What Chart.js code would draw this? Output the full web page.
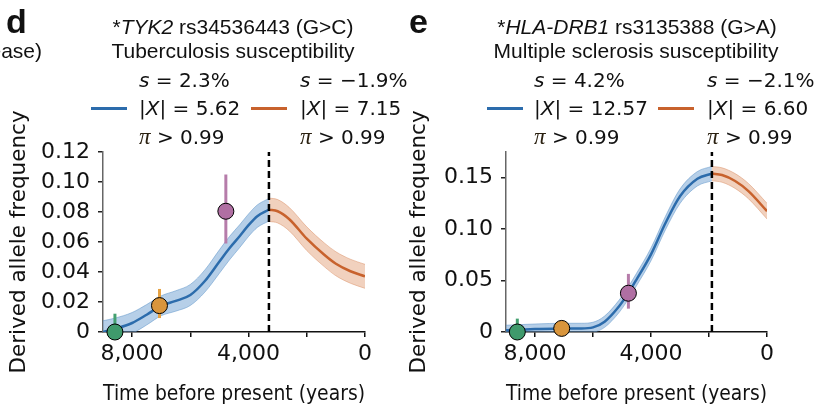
<!DOCTYPE html>
<html>
<head>
<meta charset="utf-8">
<script src="https://cdn.jsdelivr.net/npm/chart.js@4.4.1/dist/chart.umd.min.js"></script>
<style>
  html, body { margin: 0; padding: 0; background: #fff; }
  #wrap { position: relative; width: 820px; height: 418px; overflow: hidden; color: #111; }
  canvas { position: absolute; top: 0; }
  .txt { position: absolute; white-space: nowrap; line-height: 1; }
  .head { font-family: "Liberation Sans", Arial, sans-serif; font-size: 21px; transform: translateX(-50%); }
  .tag { font-family: "Liberation Sans", Arial, sans-serif; font-size: 34px; font-weight: bold; }
  .leg { font-family: "DejaVu Sans", sans-serif; font-size: 20px; }
  .pi { font-family: "Liberation Serif", serif; font-style: italic; font-size: 23px; color: #2a2010; }
  .swatch { position: absolute; top: 107px; height: 2.5px; width: 36px; }
</style>
</head>
<body>
<div id="wrap">
  <canvas id="chartD" width="410" height="418" style="left:0"></canvas>
  <canvas id="chartE" width="420" height="418" style="left:400px"></canvas>

  <div class="txt tag" style="left:6px;top:4px">d</div>
  <div class="txt head" style="right:778px;top:39.7px;transform:none">ease)</div>
  <div class="txt head" style="left:233px;top:15.5px">*<i>TYK2</i> rs34536443 (G&gt;C)</div>
  <div class="txt head" style="left:233px;top:39.7px">Tuberculosis susceptibility</div>
  <div class="swatch" style="left:91px;background:#2c6cac"></div>
  <div class="swatch" style="left:251px;background:#c8622d"></div>
  <div class="txt leg" style="left:139px;top:70.4px"><i>s</i> = 2.3%</div>
  <div class="txt leg" style="left:139px;top:98.1px">|<i>X</i>| = 5.62</div>
  <div class="txt leg" style="left:139px;top:124.8px"><span class="pi">π</span> &gt; 0.99</div>
  <div class="txt leg" style="left:300px;top:70.4px"><i>s</i> = −1.9%</div>
  <div class="txt leg" style="left:300px;top:98.1px">|<i>X</i>| = 7.15</div>
  <div class="txt leg" style="left:300px;top:124.8px"><span class="pi">π</span> &gt; 0.99</div>

  <div class="txt tag" style="left:409px;top:4px">e</div>
  <div class="txt head" style="left:637px;top:15.5px">*<i>HLA-DRB1</i> rs3135388 (G&gt;A)</div>
  <div class="txt head" style="left:636px;top:39.7px">Multiple sclerosis susceptibility</div>
  <div class="swatch" style="left:487px;background:#2c6cac"></div>
  <div class="swatch" style="left:658px;background:#c8622d"></div>
  <div class="txt leg" style="left:534px;top:70.4px"><i>s</i> = 4.2%</div>
  <div class="txt leg" style="left:534px;top:98.1px">|<i>X</i>| = 12.57</div>
  <div class="txt leg" style="left:534px;top:124.8px"><span class="pi">π</span> &gt; 0.99</div>
  <div class="txt leg" style="left:707px;top:70.4px"><i>s</i> = −2.1%</div>
  <div class="txt leg" style="left:707px;top:98.1px">|<i>X</i>| = 6.60</div>
  <div class="txt leg" style="left:707px;top:124.8px"><span class="pi">π</span> &gt; 0.99</div>
</div>

<script>
// axis ticks (shared x, per-panel y)
const xTickValues = [0, 2000, 4000, 6000, 8000];
const xTickLabels = ['0', '', '4,000', '', '8,000'];
const yTickValuesD = [0, 0.02, 0.04, 0.06, 0.08, 0.10, 0.12];
const yTickLabelsD = ['0', '0.02', '0.04', '0.06', '0.08', '0.10', '0.12'];
const yTickValuesE = [0, 0.05, 0.10, 0.15];
const yTickLabelsE = ['0', '0.05', '0.10', '0.15'];

// panel d: TYK2 trajectory (years before present -> frequency)
const yearsBlueD = [9000, 8600, 8000, 7500, 7000, 6500, 6000, 5500, 5000, 4650, 4300, 4000, 3700, 3300];
const meanBlueD = [0.000, 0.002, 0.006, 0.0115, 0.0175, 0.0207, 0.0247, 0.034, 0.047, 0.056, 0.064, 0.0712, 0.0772, 0.0815];
const halfBlueD = [0.0075, 0.0072, 0.007, 0.0068, 0.0066, 0.0068, 0.007, 0.0074, 0.0078, 0.0078, 0.0076, 0.0075, 0.0075, 0.0075];
const yearsOrangeD = [3300, 3000, 2600, 2000, 1400, 1000, 500, 0];
const meanOrangeD = [0.0815, 0.0805, 0.0752, 0.0622, 0.0515, 0.0455, 0.0405, 0.0371];
const halfOrangeD = [0.0078, 0.0078, 0.0078, 0.0079, 0.0079, 0.008, 0.008, 0.008];
const sampleYearsD = [8590, 7060, 4780];
const sampleFreqD = [0, 0.0176, 0.0805];
const sampleLowD = [0, 0.0093, 0.059];
const sampleHighD = [0.0122, 0.0287, 0.105];
const splitD = 3300;

// panel e: HLA-DRB1 trajectory
const yearsBlueE = [9000, 8000, 7000, 6400, 6000, 5600, 5100, 4780, 4500, 4000, 3500, 3000, 2400, 1900];
const meanBlueE = [0.0016, 0.0028, 0.0035, 0.0035, 0.0045, 0.0100, 0.0250, 0.0380, 0.0510, 0.0755, 0.1060, 0.1320, 0.1490, 0.1540];
const halfBlueE = [0.005, 0.005, 0.005, 0.005, 0.005, 0.0055, 0.006, 0.006, 0.006, 0.0062, 0.0065, 0.007, 0.007, 0.007];
const yearsOrangeE = [1900, 1550, 1100, 640, 0];
const meanOrangeE = [0.1540, 0.1526, 0.1468, 0.1370, 0.1175];
const halfOrangeE = [0.007, 0.007, 0.0072, 0.0074, 0.0076];
const sampleYearsE = [8610, 7079, 4779];
const sampleFreqE = [0, 0.0035, 0.0377];
const sampleLowE = [0, 0.0015, 0.0227];
const sampleHighE = [0.013, 0.0058, 0.0565];
const splitE = 1900;

const sampleColors = ['#3f9a6c', '#d9953c', '#b06fa3'];
const barColors = ['#44a070', '#e6a243', '#b67caa'];

const BLUE = '#2c6cac', BLUE_FILL = 'rgba(110,160,210,0.5)', BLUE_EDGE = 'rgba(90,145,200,0.5)';
const ORANGE = '#c8622d', ORANGE_FILL = 'rgba(222,145,100,0.42)', ORANGE_EDGE = 'rgba(215,135,90,0.45)';
const AX_FONT = '"DejaVu Sans", sans-serif';

function pts(xs, ys) { return xs.map((x, i) => ({x: x, y: ys[i]})); }
function shifted(xs, ys, hs, sign) { return xs.map((x, i) => ({x: x, y: ys[i] + sign * hs[i]})); }

function bandSets(xs, ys, hs, fill, edge) {
    const common = {pointRadius: 0, borderWidth: 1, borderColor: edge, cubicInterpolationMode: 'monotone', order: 4};
    return [
        Object.assign({data: shifted(xs, ys, hs, 1), fill: '+1', backgroundColor: fill}, common),
        Object.assign({data: shifted(xs, ys, hs, -1), fill: false}, common)
    ];
}

function makeChart(id, p) {
    const datasets = [];
    datasets.push({
        data: pts(p.sampleYears, p.sampleFreq), showLine: false, pointRadius: 8,
        pointBackgroundColor: sampleColors, pointBorderColor: '#000', pointBorderWidth: 1,
        order: 0, clip: false
    });
    p.sampleYears.forEach((x, i) => {
        datasets.push({
            data: [{x: x, y: p.sampleLow[i]}, {x: x, y: p.sampleHigh[i]}],
            borderColor: barColors[i], borderWidth: 3, pointRadius: 0, order: 1, clip: false
        });
    });
    datasets.push({
        data: [{x: p.split, y: 0}, {x: p.split, y: p.yMax}],
        borderColor: '#000', borderWidth: 2.5, borderDash: [7, 4], pointRadius: 0, order: 2
    });
    datasets.push({data: pts(p.blueYears, p.blueMean), borderColor: BLUE, borderWidth: 2.5, pointRadius: 0, cubicInterpolationMode: 'monotone', order: 3});
    datasets.push({data: pts(p.orangeYears, p.orangeMean), borderColor: ORANGE, borderWidth: 2.5, pointRadius: 0, cubicInterpolationMode: 'monotone', order: 3});
    bandSets(p.blueYears, p.blueMean, p.blueHalf, BLUE_FILL, BLUE_EDGE).forEach(d => datasets.push(d));
    bandSets(p.orangeYears, p.orangeMean, p.orangeHalf, ORANGE_FILL, ORANGE_EDGE).forEach(d => datasets.push(d));

    new Chart(document.getElementById(id).getContext('2d'), {
        type: 'line',
        data: {datasets: datasets},
        options: {
            responsive: false,
            animation: false,
            events: [],
            layout: {padding: {left: 0, right: p.padRight, top: 152, bottom: 8}},
            plugins: {legend: {display: false}, tooltip: {enabled: false}},
            scales: {
                x: {
                    type: 'linear', reverse: true, min: 0, max: 9000,
                    afterBuildTicks: s => { s.ticks = xTickValues.map(v => ({value: v})); },
                    afterFit: s => { s.height = 78; },
                    ticks: {
                        callback: (v, i) => xTickLabels[i],
                        font: {family: AX_FONT, size: 22}, color: '#111',
                        padding: 4, maxRotation: 0, autoSkip: false
                    },
                    grid: {drawOnChartArea: false, drawTicks: true, tickLength: 5, color: '#111', lineWidth: 1.5},
                    border: {color: '#111', width: 1.5},
                    title: {
                        display: true, text: 'Time before present (years)',
                        font: {family: AX_FONT, size: 21.5}, color: '#111', padding: {top: 4, bottom: 3}
                    }
                },
                y: {
                    min: 0, max: p.yMax,
                    afterBuildTicks: s => { s.ticks = p.yTicks.map(v => ({value: v})); },
                    afterFit: s => { s.width = p.yWidth; },
                    ticks: {
                        callback: (v, i) => p.yLabels[i],
                        font: {family: AX_FONT, size: 22}, color: '#111', padding: 8
                    },
                    grid: {drawOnChartArea: false, drawTicks: true, tickLength: 5, color: '#222', lineWidth: 1.5},
                    border: {color: '#666', width: 1.5},
                    title: {
                        display: true, text: 'Derived allele frequency',
                        font: {family: AX_FONT, size: 21.5}, color: '#111', padding: {top: 6.5, bottom: 0}
                    }
                }
            }
        }
    });
}

makeChart('chartD', {
    blueYears: yearsBlueD, blueMean: meanBlueD, blueHalf: halfBlueD,
    orangeYears: yearsOrangeD, orangeMean: meanOrangeD, orangeHalf: halfOrangeD,
    sampleYears: sampleYearsD, sampleFreq: sampleFreqD, sampleLow: sampleLowD, sampleHigh: sampleHighD,
    split: splitD, yMax: 0.12, yTicks: yTickValuesD, yLabels: yTickLabelsD,
    yWidth: 103, padRight: 45
});

makeChart('chartE', {
    blueYears: yearsBlueE, blueMean: meanBlueE, blueHalf: halfBlueE,
    orangeYears: yearsOrangeE, orangeMean: meanOrangeE, orangeHalf: halfOrangeE,
    sampleYears: sampleYearsE, sampleFreq: sampleFreqE, sampleLow: sampleLowE, sampleHigh: sampleHighE,
    split: splitE, yMax: 0.175, yTicks: yTickValuesE, yLabels: yTickLabelsE,
    yWidth: 106, padRight: 53
});
</script>
</body>
</html>
